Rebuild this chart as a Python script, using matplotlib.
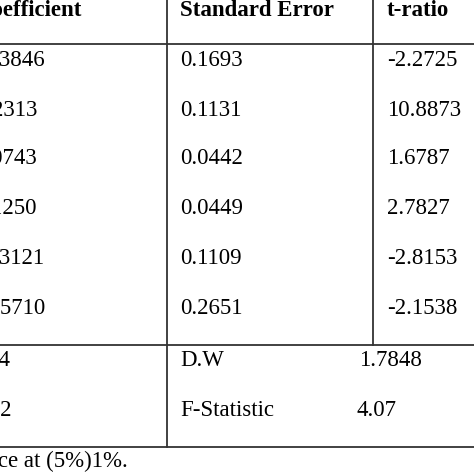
import matplotlib.pyplot as plt

plt.rcParams["font.family"] = ["Liberation Serif", "DejaVu Serif"]

headers = ["Coefficient", "Standard Error", "t-ratio"]
coefficients = ["-0.3846", "1.2313", "0.0743", "0.1250", "-0.3121", "-0.5710"]
std_errors = ["0.1693", "0.1131", "0.0442", "0.0449", "0.1109", "0.2651"]
t_ratios = ["-2.2725", "10.8873", "1.6787", "2.7827", "-2.8153", "-2.1538"]
stat_left = ["0.64", "1.2E-2"]
stat_names = ["D.W", "F-Statistic"]
stat_values = ["1.7848", "4.07"]
footnote = "*Significance at (5%)1%."

fig = plt.figure(figsize=(4.74, 4.74), dpi=100)
ax = fig.add_axes([0, 0, 1, 1])
ax.set_xlim(0, 474)
ax.set_ylim(474, 0)
ax.axis("off")

fs = 16.5
line_kw = dict(color="#333333", lw=1.3)

# grid lines
ax.plot([0, 474], [44, 44], **line_kw)
ax.plot([0, 474], [345, 345], **line_kw)
ax.plot([0, 474], [447, 447], **line_kw)
ax.plot([167, 167], [0, 447], **line_kw)
ax.plot([373, 373], [0, 345], **line_kw)

# header
ax.text(82, 10, headers[0], ha="right", va="center", fontsize=fs, fontweight="bold")
ax.text(180, 10, headers[1], ha="left", va="center", fontsize=fs, fontweight="bold")
ax.text(387, 10, headers[2], ha="left", va="center", fontsize=fs, fontweight="bold")

row_y = [60, 110, 159, 209, 258, 308]
coef_end = [45, 37, 37, 37, 44, 45]
for i, y in enumerate(row_y):
    ax.text(coef_end[i], y, coefficients[i], ha="right", va="center", fontsize=fs)
    ax.text(180, y, std_errors[i], ha="left", va="center", fontsize=fs)
    ax.text(387, y, t_ratios[i], ha="left", va="center", fontsize=fs)

stat_y = [361, 410]
stat_end = [10, 12]
stat_x = [359, 357]
for i, y in enumerate(stat_y):
    ax.text(stat_end[i], y, stat_left[i], ha="right", va="center", fontsize=fs)
    ax.text(180, y, stat_names[i], ha="left", va="center", fontsize=fs)
    ax.text(stat_x[i], y, stat_values[i], ha="left", va="center", fontsize=fs)

ax.text(128, 461, footnote, ha="right", va="center", fontsize=fs)

fig.savefig("out.png", dpi=100)
